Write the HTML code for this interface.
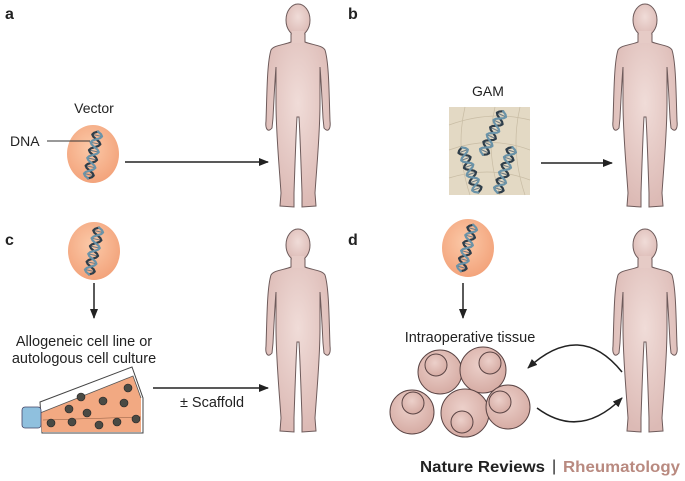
<!DOCTYPE html>
<html><head><meta charset="utf-8"><style>
html,body{margin:0;padding:0;background:#fff;}
svg{display:block;}
text{font-family:"Liberation Sans",sans-serif;fill:#222;}
</style></head><body>
<svg width="685" height="481" viewBox="0 0 685 481" xmlns="http://www.w3.org/2000/svg">
<defs>
<radialGradient id="skin" cx="50%" cy="40%" r="60%">
<stop offset="0" stop-color="#f0dcd8"/><stop offset="1" stop-color="#dcbab5"/></radialGradient>
<radialGradient id="orng" cx="45%" cy="40%" r="60%">
<stop offset="0" stop-color="#fbc9a8"/><stop offset="1" stop-color="#f3a47c"/></radialGradient>
<radialGradient id="cell" cx="45%" cy="40%" r="60%">
<stop offset="0" stop-color="#ecd0ca"/><stop offset="1" stop-color="#d6aca4"/></radialGradient>
<marker id="ah" markerWidth="10" markerHeight="8" refX="9" refY="4" orient="auto" markerUnits="userSpaceOnUse">
<path d="M0,0 L10,4 L0,8 Z" fill="#222"/></marker>
<g id="human">
<path d="M-7,31 L-7,39 C-14,42 -24,42 -27,47 C-31,60 -31,90 -32,118 C-33,126 -30,130 -26,125 L-25,115 C-24,95 -23,76 -22,64 L-22,100 C-22,130 -19,160 -17,190 L-18,203 L-4,204 L-4,190 C-3,160 -2,130 -1,114 L1,114 C2,130 3,160 4,190 L4,204 L18,203 L17,190 C19,160 22,130 22,100 L22,64 C23,76 24,95 25,115 L26,125 C30,130 33,126 32,118 C31,90 31,60 27,47 C24,42 14,42 7,39 L7,31 Z" fill="url(#skin)" stroke="#6e5b5b" stroke-width="1"/>
<ellipse cx="0" cy="17" rx="12" ry="16" fill="url(#skin)" stroke="#6e5b5b" stroke-width="1"/>
<rect x="-6.3" y="28" width="12.6" height="12" fill="#e6cbc6"/>
</g>
<g id="helix" fill="none" stroke-linecap="round" stroke-linejoin="round">
<path d="M-5,-20 L5,-20 M-5,-12 L5,-12 M-5,-4 L5,-4 M-5,4 L5,4 M-5,12 L5,12 M-5,20 L5,20" stroke="#6a7a84" stroke-width="1"/>
<polyline points="0,-24 -3.5,-22 -5,-20 -3.5,-18 0,-16 3.5,-14 5,-12 3.5,-10 0,-8 -3.5,-6 -5,-4 -3.5,-2 0,0 3.5,2 5,4 3.5,6 0,8 -3.5,10 -5,12 -3.5,14 0,16 3.5,18 5,20 3.5,22 0,24" stroke="#2f3e4a" stroke-width="2.2"/>
<polyline points="0,-24 3.5,-22 5,-20 3.5,-18 0,-16 -3.5,-14 -5,-12 -3.5,-10 0,-8 3.5,-6 5,-4 3.5,-2 0,0 -3.5,2 -5,4 -3.5,6 0,8 3.5,10 5,12 3.5,14 0,16 -3.5,18 -5,20 -3.5,22 0,24" stroke="#6a93a8" stroke-width="2.2"/>
</g>
</defs>

<text x="5" y="19" font-size="16" font-weight="bold">a</text>
<text x="348" y="19" font-size="16" font-weight="bold">b</text>
<text x="5" y="245" font-size="16" font-weight="bold">c</text>
<text x="348" y="245" font-size="16" font-weight="bold">d</text>

<use href="#human" transform="translate(298,3)"/>
<use href="#human" transform="translate(645,3)"/>
<use href="#human" transform="translate(298,228)"/>
<use href="#human" transform="translate(645,228)"/>

<!-- a -->
<text x="94" y="113" font-size="14" text-anchor="middle">Vector</text>
<text x="10" y="146" font-size="14">DNA</text>
<ellipse cx="93" cy="154" rx="26" ry="29" fill="url(#orng)"/>
<use href="#helix" transform="translate(93,155) rotate(12)"/>
<line x1="47" y1="141" x2="90" y2="141" stroke="#333" stroke-width="1"/>
<line x1="125" y1="162" x2="268" y2="162" stroke="#222" stroke-width="1.5" marker-end="url(#ah)"/>

<!-- b -->
<text x="488" y="96" font-size="14" text-anchor="middle">GAM</text>
<rect x="449" y="107" width="81" height="88" fill="#e3d9c4"/>
<g stroke="#c8bca4" stroke-width="0.7" fill="none">
<path d="M449,125 Q490,110 530,120 M449,150 Q490,135 530,150 M449,178 Q490,165 530,180 M465,107 Q455,150 470,195 M495,107 Q485,150 500,195 M520,107 Q510,150 525,195"/>
</g>
<use href="#helix" transform="translate(470,170) rotate(-20)"/>
<use href="#helix" transform="translate(493,133) rotate(25)"/>
<use href="#helix" transform="translate(505,170) rotate(18)"/>
<line x1="541" y1="163" x2="612" y2="163" stroke="#222" stroke-width="1.5" marker-end="url(#ah)"/>

<!-- c -->
<ellipse cx="94" cy="251" rx="26" ry="29" fill="url(#orng)"/>
<use href="#helix" transform="translate(94,251) rotate(12)"/>
<line x1="94" y1="283" x2="94" y2="318" stroke="#222" stroke-width="1.5" marker-end="url(#ah)"/>
<text x="84" y="346" font-size="14.5" text-anchor="middle">Allogeneic cell line or</text>
<text x="84" y="363" font-size="14.5" text-anchor="middle">autologous cell culture</text>
<polygon points="40,402 132,367 143,398 143,433 42,433" fill="#fff" stroke="#444" stroke-width="1"/>
<polygon points="40,413 133,376 141,398 141,432 42,432" fill="#f2a982"/>
<polyline points="40,413 133,376 141,398" fill="none" stroke="#555" stroke-width="0.8"/>
<line x1="43" y1="420" x2="141" y2="417" stroke="#8a5a40" stroke-width="0.5"/>
<rect x="22" y="407" width="19" height="21" rx="3" fill="#8fc0de" stroke="#446" stroke-width="0.8"/>
<g fill="#4a4a44" stroke="#222" stroke-width="0.6">
<circle cx="128" cy="388" r="4"/><circle cx="103" cy="401" r="4"/><circle cx="81" cy="397" r="4"/><circle cx="124" cy="403" r="4"/><circle cx="69" cy="409" r="4"/><circle cx="87" cy="413" r="4"/><circle cx="51" cy="423" r="4"/><circle cx="72" cy="422" r="4"/><circle cx="99" cy="425" r="4"/><circle cx="117" cy="422" r="4"/><circle cx="136" cy="419" r="4"/>
</g>
<line x1="153" y1="388" x2="268" y2="388" stroke="#222" stroke-width="1.5" marker-end="url(#ah)"/>
<text x="212" y="407" font-size="14.5" text-anchor="middle">± Scaffold</text>

<!-- d -->
<ellipse cx="468" cy="248" rx="26" ry="29" fill="url(#orng)"/>
<use href="#helix" transform="translate(467,248) rotate(15)"/>
<line x1="463" y1="283" x2="463" y2="318" stroke="#222" stroke-width="1.5" marker-end="url(#ah)"/>
<text x="470" y="342" font-size="14.5" text-anchor="middle">Intraoperative tissue</text>
<g stroke="#5a4444" stroke-width="1" fill="url(#cell)">
<circle cx="440" cy="372" r="22"/><circle cx="436" cy="365" r="11"/>
<circle cx="483" cy="370" r="23"/><circle cx="490" cy="363" r="11"/>
<circle cx="412" cy="412" r="22"/><circle cx="413" cy="403" r="11"/>
<circle cx="465" cy="413" r="24"/><circle cx="462" cy="422" r="11"/>
<circle cx="508" cy="407" r="22"/><circle cx="500" cy="402" r="11"/>
</g>
<path d="M622,372 Q580,320 528,368" fill="none" stroke="#222" stroke-width="1.5" marker-end="url(#ah)"/>
<path d="M537,408 Q580,440 622,398" fill="none" stroke="#222" stroke-width="1.5" marker-end="url(#ah)"/>

<text x="420" y="472" font-size="16" font-weight="bold" textLength="125" lengthAdjust="spacingAndGlyphs">Nature Reviews</text>
<text x="552" y="471" font-size="16" fill="#222">|</text>
<text x="563" y="472" font-size="16" font-weight="bold" style="fill:#b98a80" textLength="117" lengthAdjust="spacingAndGlyphs">Rheumatology</text>
</svg>
</body></html>
